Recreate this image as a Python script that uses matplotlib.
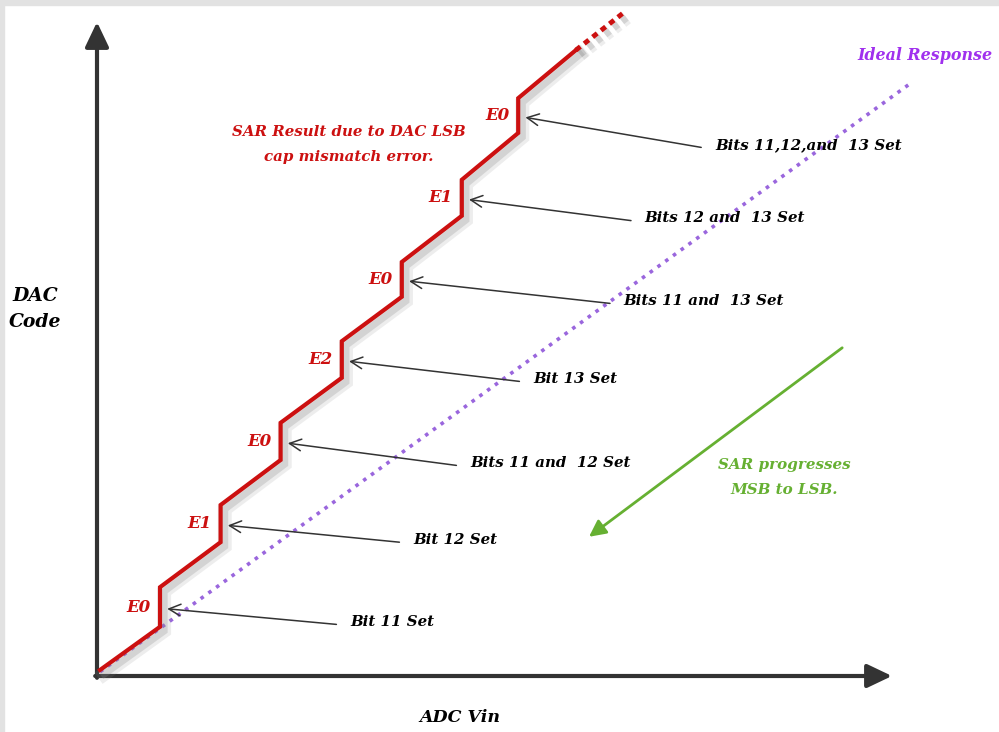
import matplotlib
matplotlib.use("Agg")
import matplotlib.pyplot as plt
import matplotlib.patheffects as pe
from matplotlib.patches import Rectangle

plt.rcParams['font.family'] = ['DejaVu Serif']

# staircase (SAR result with cap mismatch), in LSB-ish units
step_vin = [1.05, 2.06, 3.06, 4.08, 5.08, 6.08, 7.02]
step_low = [0.82, 2.23, 3.60, 4.97, 6.32, 7.67, 9.05]
step_high = [1.48, 2.85, 4.22, 5.58, 6.90, 8.27, 9.63]
step_err = ['E0', 'E1', 'E0', 'E2', 'E0', 'E1', 'E0']
sar_start = (0.05, 0.10)
sar_end = (7.98, 10.43)
sar_tail = (8.77, 11.05)

# ideal response
ideal_vin = [0.05, 13.52]
ideal_code = [0.07, 9.85]

# bit labels
bits_set = ['Bit 11 Set', 'Bit 12 Set', 'Bits 11 and  12 Set', 'Bit 13 Set',
            'Bits 11 and  13 Set', 'Bits 12 and  13 Set', 'Bits 11,12,and  13 Set']
label_x = [4.22, 5.27, 6.22, 7.27, 8.78, 9.13, 10.30]
label_y = [0.90, 2.27, 3.55, 4.95, 6.25, 7.63, 8.85]

red = '#cc1010'
purple = '#9a66dd'
dark = '#333333'
green = '#66b032'
bi = dict(fontweight='bold', fontstyle='italic')

fig = plt.figure(figsize=(9.99, 7.32), dpi=100)
ax = fig.add_axes([0, 0, 1, 1])
ax.set_xlim(-97 / 60, 902 / 60)
ax.set_ylim(-56 / 60, 676 / 60)
ax.axis('off')

# light frame on top / left
fig.patches.append(Rectangle((0, 1 - 5 / 732), 1, 5 / 732, transform=fig.transFigure,
                             color='#e2e2e2', zorder=0))
fig.patches.append(Rectangle((0, 0), 4 / 999, 1, transform=fig.transFigure,
                             color='#e2e2e2', zorder=0))

# axes with arrow heads
axis_style = dict(arrowstyle='-|>,head_length=0.42,head_width=0.2', lw=3,
                  color=dark, mutation_scale=36, shrinkA=0, shrinkB=0)
ax.annotate('', xy=(0, 10.9), xytext=(0, -0.03), arrowprops=axis_style)
ax.annotate('', xy=(13.25, 0), xytext=(-0.03, 0), arrowprops=axis_style)

# ideal response
ax.plot(ideal_vin, ideal_code, ':', color=purple, lw=2.6, zorder=2)

# SAR staircase
xs, ys = [sar_start[0]], [sar_start[1]]
for v, lo, hi in zip(step_vin, step_low, step_high):
    xs += [v, v]
    ys += [lo, hi]
xs.append(sar_end[0])
ys.append(sar_end[1])

shadow = [pe.SimpleLineShadow(offset=(3, -3), shadow_color='#888888', alpha=0.15, linewidth=10),
          pe.SimpleLineShadow(offset=(3, -3), shadow_color='#888888', alpha=0.25, linewidth=5),
          pe.Normal()]
ax.plot(xs, ys, '-', color=red, lw=3, solid_joinstyle='miter', zorder=3, path_effects=shadow)
ax.plot([sar_end[0], sar_tail[0]], [sar_end[1], sar_tail[1]], color=red, lw=3.5,
        linestyle=(0, (1.2, 1.0)), zorder=3, path_effects=shadow)

# error labels and bit annotations
for v, lo, hi, e in zip(step_vin, step_low, step_high, step_err):
    ax.text(v - 0.15, (lo + hi) / 2, e, color=red, fontsize=12, ha='right', va='center', **bi)

arrow_style = dict(arrowstyle='->,head_length=0.6,head_width=0.3', lw=1.1, color=dark,
                   mutation_scale=14, shrinkA=0, shrinkB=0)
for v, lo, hi, txt, lx, ly in zip(step_vin, step_low, step_high, bits_set, label_x, label_y):
    ax.text(lx, ly, txt, color='black', fontsize=10.8, ha='left', va='center', **bi)
    ax.annotate('', xy=(v + 0.12, (lo + hi) / 2 - 0.03), xytext=(lx - 0.23, ly - 0.04),
                arrowprops=arrow_style)

ax.text(4.2, 8.86, 'SAR Result due to DAC LSB\ncap mismatch error.', color=red, fontsize=10.8,
        ha='center', va='center', linespacing=2.05, **bi)
ax.text(14.93, 10.35, 'Ideal Response', color='#a030ee', fontsize=11.4, ha='right',
        va='center', **bi)

# SAR direction
ax.annotate('', xy=(8.2, 2.32), xytext=(12.42, 5.47),
            arrowprops=dict(arrowstyle='-|>,head_length=0.5,head_width=0.25', lw=2,
                            color=green, mutation_scale=20, shrinkA=0, shrinkB=0))
ax.text(11.45, 3.31, 'SAR progresses\nMSB to LSB.', color=green, fontsize=10.9,
        ha='center', va='center', linespacing=1.95, **bi)

# axis titles
ax.text(-1.03, 6.12, 'DAC\nCode', fontsize=13.5, ha='center', va='center',
        linespacing=1.6, **bi)
ax.text(6.05, -0.7, 'ADC Vin', fontsize=12.5, ha='center', va='center', **bi)

fig.savefig('out.png', dpi=100)
